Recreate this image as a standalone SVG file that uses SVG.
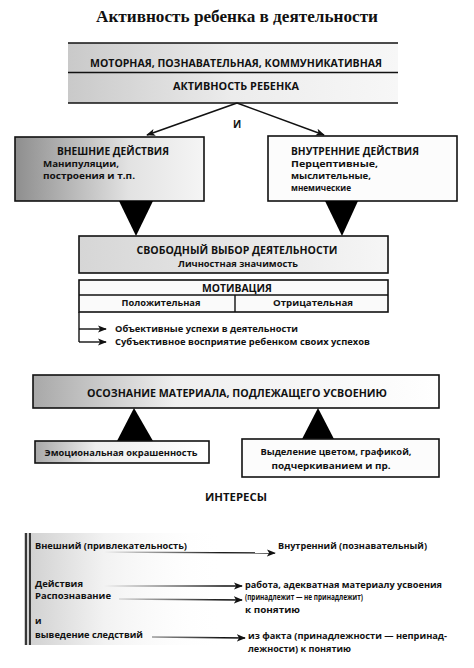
<svg xmlns="http://www.w3.org/2000/svg" width="474" height="668" viewBox="0 0 474 668">
<style>
.t{font-family:"Open Sans","Liberation Sans",sans-serif;font-weight:700;fill:#111;font-size:10px}
.s{font-family:"Open Sans","Liberation Sans",sans-serif;font-weight:700;fill:#111;font-size:9px}
.ttl{font-family:"Liberation Serif",serif;font-weight:700;font-size:16px;fill:#111}
.box{stroke:#111;stroke-width:1.6}
.ln{stroke:#111;stroke-width:1.4;fill:none}
.tri{fill:#000}
</style>
<defs>
<linearGradient id="gBand" x1="0" x2="1" y1="0" y2="0"><stop offset="0" stop-color="#c9c9c9"/><stop offset="0.5" stop-color="#ececec"/><stop offset="1" stop-color="#f7f7f7"/></linearGradient>
<linearGradient id="gDark" x1="0" x2="1" y1="0" y2="0"><stop offset="0" stop-color="#8e8e8e"/><stop offset="0.6" stop-color="#e2e2e2"/><stop offset="1" stop-color="#f5f5f5"/></linearGradient>
<linearGradient id="gMid" x1="0" x2="1" y1="0" y2="0"><stop offset="0" stop-color="#a8a8a8"/><stop offset="0.35" stop-color="#eeeeee"/><stop offset="1" stop-color="#ffffff"/></linearGradient>
<linearGradient id="gLight" x1="0" x2="1" y1="0" y2="0"><stop offset="0" stop-color="#d6d6d6"/><stop offset="1" stop-color="#f6f6f6"/></linearGradient>
<linearGradient id="gInt" x1="0" x2="1" y1="0" y2="0"><stop offset="0" stop-color="#cfcfcf"/><stop offset="0.4" stop-color="#f2f2f2"/><stop offset="1" stop-color="#ffffff" stop-opacity="0"/></linearGradient>
<marker id="ah" viewBox="0 0 10 10" refX="9" refY="5" markerWidth="9" markerHeight="9" markerUnits="userSpaceOnUse" orient="auto"><path d="M0,1 L10,5 L0,9 L2.5,5 Z" fill="#111"/></marker>
</defs>

<text class="ttl" x="237" y="22" text-anchor="middle" textLength="282" lengthAdjust="spacingAndGlyphs">Активность ребенка в деятельности</text>

<g id="band">
<rect x="68" y="43" width="330" height="60" fill="url(#gBand)"/>
<line class="ln" x1="68" y1="43" x2="398" y2="43"/>
<line class="ln" x1="68" y1="72.5" x2="398" y2="72.5"/>
<line class="ln" x1="68" y1="103" x2="398" y2="103"/>
<text class="t" x="236" y="67" text-anchor="middle" textLength="292" lengthAdjust="spacingAndGlyphs">МОТОРНАЯ, ПОЗНАВАТЕЛЬНАЯ, КОММУНИКАТИВНАЯ</text>
<text class="t" x="236" y="90" text-anchor="middle" textLength="126" lengthAdjust="spacingAndGlyphs">АКТИВНОСТЬ РЕБЕНКА</text>
</g>

<g id="connectors">
<line class="ln" x1="237" y1="103" x2="147" y2="135" marker-end="url(#ah)"/>
<line class="ln" x1="237" y1="103" x2="324" y2="135" marker-end="url(#ah)"/>
<path class="ln" d="M79,312 V342"/>
<line class="ln" x1="79" y1="329" x2="106" y2="329" marker-end="url(#ah)"/>
<line class="ln" x1="79" y1="342" x2="106" y2="342" marker-end="url(#ah)"/>
<path class="ln" d="M87,552 L275,553" marker-end="url(#ah)"/>
<line class="ln" x1="95" y1="586" x2="242" y2="586" marker-end="url(#ah)"/>
<line class="ln" x1="119" y1="599" x2="242" y2="600" marker-end="url(#ah)"/>
<line class="ln" x1="152" y1="637" x2="245" y2="638" marker-end="url(#ah)"/>
</g>
<text class="t" x="237" y="128" text-anchor="middle">И</text>

<g id="outer">
<rect class="box" x="15" y="137" width="189" height="64" fill="url(#gDark)"/>
<text class="t" x="57" y="155" textLength="112" lengthAdjust="spacingAndGlyphs">ВНЕШНИЕ ДЕЙСТВИЯ</text>
<text class="s" x="43" y="167" textLength="76" lengthAdjust="spacingAndGlyphs">Манипуляции,</text>
<text class="s" x="43" y="179" textLength="92" lengthAdjust="spacingAndGlyphs">построения и т.п.</text>
</g>

<g id="inner">
<rect class="box" x="268" y="136" width="189" height="65" fill="#fcfcfc"/>
<text class="t" x="291" y="155" textLength="128" lengthAdjust="spacingAndGlyphs">ВНУТРЕННИЕ ДЕЙСТВИЯ</text>
<text class="s" x="291" y="167" textLength="87" lengthAdjust="spacingAndGlyphs">Перцептивные,</text>
<text class="s" x="291" y="179" textLength="80" lengthAdjust="spacingAndGlyphs">мыслительные,</text>
<text class="s" x="291" y="191" textLength="60" lengthAdjust="spacingAndGlyphs">мнемические</text>
</g>

<g id="tri-top">
<polygon class="tri" points="119,201 153,201 136,236"/>
<polygon class="tri" points="325,201 358,201 342,236"/>
</g>

<g id="choice">
<rect class="box" x="79" y="236" width="309" height="37" fill="url(#gLight)"/>
<text class="t" x="237" y="254" text-anchor="middle" textLength="201" lengthAdjust="spacingAndGlyphs">СВОБОДНЫЙ ВЫБОР ДЕЯТЕЛЬНОСТИ</text>
<text class="s" x="238" y="267" text-anchor="middle" textLength="120" lengthAdjust="spacingAndGlyphs">Личностная значимость</text>
</g>

<g id="motivation">
<rect class="box" x="79" y="280" width="309" height="32" fill="#fafafa"/>
<line class="ln" x1="79" y1="295" x2="388" y2="295"/>
<line class="ln" x1="235" y1="295" x2="235" y2="312"/>
<text class="t" x="237" y="292" text-anchor="middle" textLength="70" lengthAdjust="spacingAndGlyphs">МОТИВАЦИЯ</text>
<text class="s" x="161" y="306" text-anchor="middle" textLength="79" lengthAdjust="spacingAndGlyphs">Положительная</text>
<text class="s" x="313" y="306" text-anchor="middle" textLength="80" lengthAdjust="spacingAndGlyphs">Отрицательная</text>
<text class="s" x="115" y="332" textLength="183" lengthAdjust="spacingAndGlyphs">Объективные успехи в деятельности</text>
<text class="s" x="115" y="345" textLength="255" lengthAdjust="spacingAndGlyphs">Субъективное восприятие ребенком своих успехов</text>
</g>

<g id="awareness">
<rect class="box" x="33" y="375" width="406" height="33" fill="url(#gMid)"/>
<text class="t" x="237" y="397" text-anchor="middle" textLength="300" lengthAdjust="spacingAndGlyphs">ОСОЗНАНИЕ МАТЕРИАЛА, ПОДЛЕЖАЩЕГО УСВОЕНИЮ</text>
</g>

<g id="tri-bottom">
<polygon class="tri" points="134,408 117,441 153,441"/>
<polygon class="tri" points="318,408 301,441 335,441"/>
</g>

<g id="emotion">
<rect class="box" x="35" y="441" width="174" height="22" fill="url(#gMid)"/>
<text class="s" x="121" y="456" text-anchor="middle" textLength="153" lengthAdjust="spacingAndGlyphs">Эмоциональная окрашенность</text>
</g>

<g id="highlight">
<rect class="box" x="242" y="439" width="197" height="38" fill="#fcfcfc"/>
<text class="s" x="336" y="455" text-anchor="middle" textLength="151" lengthAdjust="spacingAndGlyphs">Выделение цветом, графикой,</text>
<text class="s" x="331" y="469" text-anchor="middle" textLength="119" lengthAdjust="spacingAndGlyphs">подчеркиванием и пр.</text>
</g>

<g id="interests">
<text class="t" x="236" y="501" text-anchor="middle" textLength="62" lengthAdjust="spacingAndGlyphs">ИНТЕРЕСЫ</text>
<rect x="24" y="533" width="200" height="112" fill="url(#gInt)"/>
<line x1="26" y1="533" x2="26" y2="645" stroke="#111" stroke-width="1.6"/>
<line x1="30" y1="533" x2="30" y2="645" stroke="#111" stroke-width="1.6"/>
<text class="s" x="35" y="549" textLength="152" lengthAdjust="spacingAndGlyphs">Внешний (привлекательность)</text>
<text class="s" x="278" y="549" textLength="149" lengthAdjust="spacingAndGlyphs">Внутренний (познавательный)</text>
<text class="s" x="35" y="587" textLength="48" lengthAdjust="spacingAndGlyphs">Действия</text>
<text class="s" x="245" y="588" textLength="197" lengthAdjust="spacingAndGlyphs">работа, адекватная материалу усвоения</text>
<text class="s" x="35" y="599" textLength="76" lengthAdjust="spacingAndGlyphs">Распознавание</text>
<text class="s" x="245" y="600" textLength="118" lengthAdjust="spacingAndGlyphs">(принадлежит — не принадлежит)</text>
<text class="s" x="245" y="613" textLength="55" lengthAdjust="spacingAndGlyphs">к понятию</text>
<text class="s" x="35" y="624">и</text>
<text class="s" x="35" y="638" textLength="108" lengthAdjust="spacingAndGlyphs">выведение следствий</text>
<text class="s" x="248" y="639" textLength="199" lengthAdjust="spacingAndGlyphs">из факта (принадлежности — непринад-</text>
<text class="s" x="248" y="652" textLength="103" lengthAdjust="spacingAndGlyphs">лежности) к понятию</text>
</g>
</svg>
